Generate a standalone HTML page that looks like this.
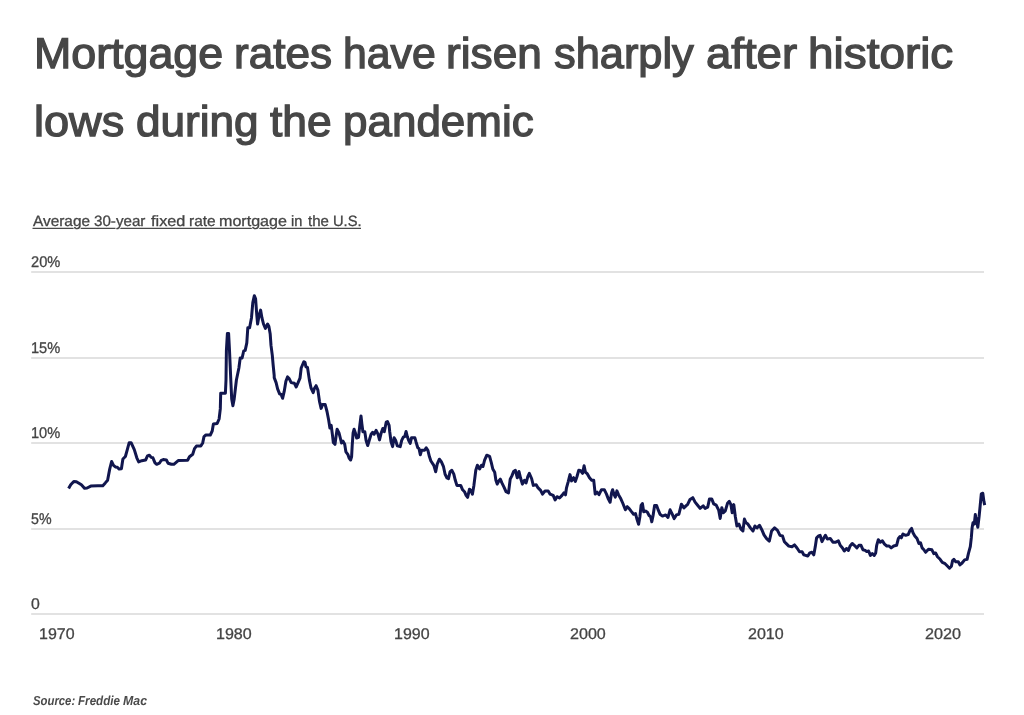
<!DOCTYPE html>
<html><head><meta charset="utf-8"><title>Mortgage rates</title>
<style>
html,body{margin:0;padding:0;background:#fff;}
body{width:1024px;height:715px;position:relative;overflow:hidden;font-family:"Liberation Sans",sans-serif;color:#444;}
.t{text-rendering:geometricPrecision;position:absolute;white-space:nowrap;transform-origin:0 0;display:block;}
.ti{font-size:43px;line-height:50px;-webkit-text-stroke-width:1.3px;color:#474747;}
.sm{font-size:15px;line-height:18px;color:#444;-webkit-text-stroke:0.3px #444;}
.lb{font-size:15.5px;}
.halo{color:#fff;-webkit-text-stroke:1.8px #fff;}
.src{font-size:13px;line-height:16px;font-style:italic;font-weight:bold;color:#4a4a4a;}
svg{position:absolute;left:0;top:0;}
#txt{position:absolute;left:0;top:0;width:1024px;height:715px;filter:grayscale(1);}
</style></head><body>
<svg width="1024" height="715" viewBox="0 0 1024 715">
<g stroke="#e2e2e2" stroke-width="2"><line x1="31.2" x2="984" y1="272" y2="272"/><line x1="31.2" x2="984" y1="358" y2="358"/><line x1="31.2" x2="984" y1="443" y2="443"/><line x1="31.2" x2="984" y1="529" y2="529"/><line x1="31.2" x2="984" y1="614" y2="614"/></g>
<line x1="32.5" x2="361" y1="228.35" y2="228.35" stroke="#4a4a4a" stroke-width="1.2"/>
<path d="M68.6,488.6 L70.7,484.8 L73.8,481.4 L76.4,481.7 L81.4,484.8 L84.5,488.3 L87.1,488.0 L90.8,486.1 L97.8,485.7 L102.8,485.7 L105.3,482.9 L107.6,480.2 L109.7,469.1 L111.6,461.5 L113.5,465.3 L115.4,466.9 L117.3,467.2 L119.2,469.1 L121.4,468.8 L122.9,459.0 L125.4,456.5 L127.3,449.6 L129.2,442.7 L131.1,442.7 L134.3,449.6 L136.8,457.8 L138.7,461.9 L141.8,460.7 L145.6,460.0 L147.5,455.9 L149.4,455.2 L151.2,457.4 L152.9,457.8 L155.0,462.8 L156.7,464.3 L159.4,463.2 L161.3,460.3 L163.2,459.6 L166.4,460.0 L168.0,463.2 L171.4,464.3 L173.8,464.3 L178.2,460.6 L187.6,460.3 L189.5,456.8 L192.7,454.3 L194.5,448.6 L196.4,446.1 L200.8,446.1 L202.7,442.9 L204.0,436.6 L205.9,435.0 L210.3,435.0 L212.2,431.0 L213.4,424.1 L217.2,423.4 L219.1,419.0 L220.3,408.9 L220.7,393.2 L225.4,393.2 L226.0,380.0 L226.4,350.4 L227.4,333.4 L228.6,333.4 L229.5,350.4 L230.8,380.0 L231.7,398.9 L232.9,405.8 L234.2,398.9 L236.4,380.0 L238.9,368.0 L240.2,358.0 L242.1,358.0 L243.7,351.0 L245.2,350.4 L246.8,342.9 L247.8,327.8 L249.6,327.8 L251.5,317.7 L252.8,302.6 L254.3,295.7 L255.6,298.8 L256.8,315.2 L257.6,324.0 L259.1,315.2 L260.6,310.1 L261.9,317.7 L263.5,324.0 L265.4,328.4 L267.6,324.0 L268.9,326.5 L270.2,334.1 L271.0,345.4 L272.3,355.4 L273.2,365.5 L274.2,375.6 L274.2,377.6 L276.1,382.6 L277.6,388.9 L279.6,393.9 L281.1,394.5 L282.6,398.3 L284.2,391.4 L285.9,381.3 L287.6,376.9 L289.3,378.8 L291.2,382.6 L294.3,383.2 L296.2,387.0 L298.1,382.6 L300.0,378.2 L301.2,368.0 L303.8,361.7 L305.0,362.4 L305.9,366.8 L307.5,367.4 L309.4,380.1 L311.1,388.2 L313.2,392.7 L314.5,388.2 L316.1,385.7 L317.9,390.1 L319.5,401.5 L321.1,408.4 L322.6,404.6 L325.2,404.6 L327.0,411.5 L328.7,420.3 L329.9,427.9 L331.2,425.4 L332.5,435.4 L333.3,442.4 L335.0,444.3 L336.2,435.4 L337.1,429.2 L339.0,432.9 L340.3,438.0 L341.5,443.0 L343.0,441.1 L344.7,444.3 L345.9,451.8 L347.8,454.3 L349.1,458.1 L350.6,460.0 L351.6,456.8 L352.2,445.5 L353.1,432.9 L354.1,429.2 L355.4,432.9 L356.6,438.0 L358.5,437.3 L359.8,425.4 L361.0,415.9 L361.9,424.1 L362.9,431.7 L364.8,431.7 L366.1,440.5 L367.7,445.5 L369.2,440.5 L371.1,434.2 L372.7,432.3 L374.2,434.2 L376.1,430.4 L378.0,434.2 L379.5,439.9 L381.2,432.9 L382.8,428.5 L384.3,431.7 L386.2,422.2 L387.5,421.6 L389.1,425.4 L389.7,431.5 L391.0,441.5 L392.6,446.6 L394.1,437.8 L395.6,440.3 L397.3,445.9 L400.2,446.6 L401.7,440.3 L403.3,437.1 L404.8,436.5 L406.1,431.5 L407.3,436.5 L408.6,440.3 L410.2,443.4 L411.5,437.8 L414.9,437.8 L416.1,442.2 L417.8,447.8 L419.0,448.5 L420.3,454.7 L421.6,450.3 L424.6,450.3 L426.2,447.8 L427.9,450.3 L429.4,456.6 L430.9,461.0 L433.8,465.4 L435.7,471.7 L437.2,464.2 L439.4,459.2 L441.3,461.7 L443.5,466.7 L445.1,474.3 L447.0,478.0 L448.5,478.7 L450.1,471.7 L451.9,470.3 L453.8,474.1 L455.3,480.3 L456.9,485.4 L460.7,485.4 L462.6,489.8 L464.5,491.7 L466.1,495.4 L467.6,497.3 L469.5,489.2 L470.8,490.4 L472.4,494.2 L473.9,485.4 L475.8,470.3 L477.4,465.2 L479.6,469.0 L481.5,465.2 L483.0,466.5 L484.6,460.2 L486.8,455.2 L489.6,456.4 L491.3,462.7 L492.8,469.0 L494.7,472.2 L495.9,480.3 L497.2,484.1 L498.8,481.0 L500.3,479.1 L501.9,482.9 L504.1,487.3 L506.0,491.7 L508.5,492.9 L510.2,479.1 L511.9,475.9 L513.6,471.5 L515.4,470.3 L517.3,477.8 L519.0,471.5 L520.5,477.8 L522.4,484.1 L524.5,480.3 L526.1,482.9 L527.8,476.6 L529.3,473.4 L531.6,478.5 L533.3,485.4 L536.2,484.7 L538.1,487.9 L540.6,490.4 L542.5,494.2 L545.0,491.0 L548.2,491.0 L550.1,494.2 L553.2,495.4 L555.1,499.9 L557.0,496.7 L559.5,498.0 L562.0,495.4 L563.9,492.9 L565.5,494.8 L566.5,487.8 L568.1,482.1 L570.0,474.6 L571.5,480.9 L573.6,477.7 L575.3,481.5 L577.0,476.5 L578.8,470.2 L580.7,470.8 L582.6,473.3 L584.1,465.8 L585.4,472.1 L587.4,473.9 L589.5,477.7 L591.7,480.2 L593.7,480.2 L595.2,494.1 L597.1,492.2 L599.0,494.7 L601.5,489.7 L604.3,489.7 L606.5,494.1 L608.4,499.1 L610.1,502.3 L611.6,492.8 L612.6,489.7 L614.1,494.7 L615.3,497.2 L616.9,490.9 L618.5,494.7 L620.4,497.9 L622.9,503.5 L625.4,509.8 L627.3,506.7 L629.2,508.6 L631.1,511.1 L633.6,514.2 L635.5,513.6 L637.0,519.3 L638.6,524.3 L639.9,516.7 L641.1,505.4 L642.4,503.5 L643.7,511.7 L645.6,511.1 L647.4,512.3 L649.1,515.5 L650.6,516.7 L651.8,521.8 L653.1,515.5 L654.6,505.4 L656.6,505.4 L658.4,510.4 L660.0,514.2 L662.5,516.1 L665.7,514.9 L668.0,517.4 L670.1,509.8 L672.0,513.6 L674.2,518.6 L676.4,514.9 L678.9,514.2 L681.4,504.2 L683.9,507.9 L686.5,505.4 L687.5,504.6 L690.0,499.5 L692.8,497.7 L695.1,502.1 L697.6,505.2 L700.1,508.4 L703.2,505.8 L705.1,508.4 L707.7,507.1 L709.5,498.9 L711.7,498.9 L713.7,503.9 L716.2,505.2 L718.7,510.2 L720.2,518.4 L721.8,507.7 L723.4,512.8 L725.3,510.9 L727.5,503.3 L729.3,501.4 L730.9,504.6 L732.2,512.8 L733.8,504.6 L735.3,516.5 L736.9,526.0 L738.9,524.1 L741.0,529.1 L742.9,531.0 L744.4,519.1 L746.0,522.8 L747.9,524.1 L750.4,527.9 L753.0,531.0 L754.9,526.0 L757.0,527.9 L759.5,525.3 L761.8,529.7 L764.0,534.8 L766.6,538.6 L769.3,541.1 L771.6,531.0 L774.6,527.9 L777.5,530.4 L780.0,535.4 L782.5,536.0 L784.4,541.7 L786.3,543.6 L788.8,546.1 L792.0,546.7 L794.5,544.9 L797.0,548.0 L799.5,551.8 L802.1,551.8 L803.9,554.9 L807.8,556.0 L809.8,552.9 L811.9,552.3 L813.8,554.8 L815.3,546.6 L816.6,537.8 L818.6,535.9 L820.1,535.3 L822.0,541.6 L823.9,537.8 L825.4,535.3 L827.4,539.1 L830.2,538.4 L832.9,542.2 L835.8,542.2 L838.4,540.9 L840.2,545.3 L842.5,547.9 L844.3,551.0 L846.5,548.5 L848.4,550.4 L850.1,546.0 L852.2,543.5 L854.3,545.3 L856.9,547.9 L858.9,545.3 L861.0,545.3 L862.9,549.7 L865.2,550.4 L866.7,551.6 L868.6,551.0 L870.4,555.4 L872.3,553.5 L874.2,555.4 L875.7,552.9 L876.7,545.3 L878.3,539.7 L880.3,542.2 L882.4,540.9 L884.5,544.1 L886.8,546.0 L889.1,546.0 L891.2,547.9 L893.7,546.0 L896.6,545.3 L898.4,538.4 L900.0,536.5 L901.3,537.8 L902.9,534.0 L905.7,535.3 L908.2,534.6 L910.1,530.2 L911.6,528.4 L913.0,532.8 L914.8,535.9 L917.0,538.4 L918.9,543.5 L920.5,542.8 L922.1,547.9 L923.9,549.7 L925.6,552.3 L928.5,549.2 L931.9,549.8 L933.8,553.6 L935.6,553.0 L937.5,556.7 L940.1,559.3 L942.3,562.4 L945.1,563.7 L947.6,566.2 L949.5,568.1 L951.4,566.2 L952.6,560.5 L953.9,559.3 L955.8,561.8 L958.3,561.8 L959.9,564.9 L962.1,563.0 L964.6,559.9 L967.1,559.3 L968.4,553.6 L970.3,546.7 L971.3,537.9 L972.1,527.8 L973.0,522.8 L974.3,524.0 L975.3,514.6 L976.6,521.5 L977.8,527.2 L979.1,516.5 L980.1,506.4 L981.3,493.8 L982.8,493.2 L983.9,501.4 L984.7,505.1" fill="none" stroke="#11164e" stroke-width="3" stroke-linejoin="round" stroke-linecap="butt"/>
</svg>
<div id="txt">
<span class="t ti" style="left:33.58px;top:29.00px;transform:scaleX(1.0411)">Mortgage</span>
<span class="t ti" style="left:233.59px;top:29.00px;transform:scaleX(1.0259)">rates</span>
<span class="t ti" style="left:343.26px;top:29.00px;transform:scaleX(0.9950)">have</span>
<span class="t ti" style="left:446.39px;top:29.00px;transform:scaleX(1.0287)">risen</span>
<span class="t ti" style="left:554.20px;top:29.00px;transform:scaleX(1.0086)">sharply</span>
<span class="t ti" style="left:706.08px;top:29.00px;transform:scaleX(1.0584)">after</span>
<span class="t ti" style="left:808.40px;top:29.00px;transform:scaleX(1.0667)">historic</span>
<span class="t ti" style="left:33.94px;top:97.00px;transform:scaleX(1.0489)">lows</span>
<span class="t ti" style="left:135.92px;top:97.00px;transform:scaleX(1.0262)">during</span>
<span class="t ti" style="left:270.00px;top:97.00px;transform:scaleX(1.0325)">the</span>
<span class="t ti" style="left:342.95px;top:97.00px;transform:scaleX(1.0228)">pandemic</span>
<span class="t sm halo" style="left:33.20px;top:213.00px;transform:scaleX(1.0255)">Average</span>
<span class="t sm sub" style="left:33.20px;top:213.00px;transform:scaleX(1.0255)">Average</span>
<span class="t sm halo" style="left:94.19px;top:213.00px;transform:scaleX(1.0109)">30-year</span>
<span class="t sm sub" style="left:94.19px;top:213.00px;transform:scaleX(1.0109)">30-year</span>
<span class="t sm halo" style="left:150.60px;top:213.00px;transform:scaleX(1.0862)">fixed</span>
<span class="t sm sub" style="left:150.60px;top:213.00px;transform:scaleX(1.0862)">fixed</span>
<span class="t sm halo" style="left:188.83px;top:213.00px;transform:scaleX(1.0327)">rate</span>
<span class="t sm sub" style="left:188.83px;top:213.00px;transform:scaleX(1.0327)">rate</span>
<span class="t sm halo" style="left:219.40px;top:213.00px;transform:scaleX(1.0710)">mortgage</span>
<span class="t sm sub" style="left:219.40px;top:213.00px;transform:scaleX(1.0710)">mortgage</span>
<span class="t sm halo" style="left:291.47px;top:213.00px;transform:scaleX(0.9700)">in</span>
<span class="t sm sub" style="left:291.47px;top:213.00px;transform:scaleX(0.9700)">in</span>
<span class="t sm halo" style="left:308.00px;top:213.00px;transform:scaleX(1.0025)">the</span>
<span class="t sm sub" style="left:308.00px;top:213.00px;transform:scaleX(1.0025)">the</span>
<span class="t sm halo" style="left:333.02px;top:213.00px;transform:scaleX(0.9778)">U.S.</span>
<span class="t sm sub" style="left:333.02px;top:213.00px;transform:scaleX(0.9778)">U.S.</span>
<span class="t sm lb" style="left:30.99px;top:254.00px;transform:scaleX(0.9445)">20%</span>
<span class="t sm lb" style="left:31.06px;top:340.00px;transform:scaleX(0.9424)">15%</span>
<span class="t sm lb" style="left:31.06px;top:425.00px;transform:scaleX(0.9424)">10%</span>
<span class="t sm lb" style="left:31.24px;top:511.00px;transform:scaleX(0.9163)">5%</span>
<span class="t sm lb" style="left:31.09px;top:596.00px;transform:scaleX(1.0194)">0</span>
<span class="t sm lb" style="left:39.47px;top:626.00px;transform:scaleX(1.0303)">1970</span>
<span class="t sm lb" style="left:215.76px;top:626.00px;transform:scaleX(1.0364)">1980</span>
<span class="t sm lb" style="left:394.17px;top:626.00px;transform:scaleX(1.0303)">1990</span>
<span class="t sm lb" style="left:570.22px;top:626.00px;transform:scaleX(1.0376)">2000</span>
<span class="t sm lb" style="left:748.32px;top:626.00px;transform:scaleX(1.0346)">2010</span>
<span class="t sm lb" style="left:924.52px;top:626.00px;transform:scaleX(1.0436)">2020</span>
<span class="t src" style="left:32.58px;top:693.00px;transform:scaleX(0.8716)">Source:</span>
<span class="t src" style="left:77.88px;top:693.00px;transform:scaleX(0.8951)">Freddie</span>
<span class="t src" style="left:123.16px;top:693.00px;transform:scaleX(0.9495)">Mac</span>
</div>
</body></html>
